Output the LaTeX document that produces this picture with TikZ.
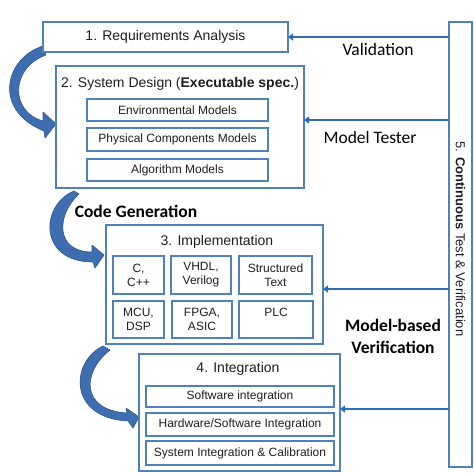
\documentclass[tikz,border=0pt]{standalone}
\usepackage{fontspec}
\setmainfont{Liberation Sans}
\newfontfamily\calfont{Carlito}
\usetikzlibrary{arrows.meta,calc}
\definecolor{boxblue}{RGB}{79,129,189}
\definecolor{lineblue}{RGB}{46,110,182}
\definecolor{arrfill}{RGB}{62,110,176}
\definecolor{arrdraw}{RGB}{45,85,145}
\definecolor{txt}{RGB}{30,30,30}
\begin{document}
\begin{tikzpicture}[x=1pt,y=-1pt,
 box/.style={draw=boxblue,line width=1.5pt,inner sep=0pt,outer sep=0pt,anchor=north west,text=txt,align=center,fill=white},
 bigtxt/.style={font=\fontsize{14}{16}\selectfont,text=txt},
 smalltxt/.style={font=\fontsize{12}{14}\selectfont},
 lbl/.style={font=\calfont\fontsize{17.5}{22}\selectfont,text=black,align=center},
 conn/.style={draw=lineblue,line width=2.4pt,-{Triangle[length=5pt,width=7pt]}},
 bendarrow/.style={fill=arrfill,draw=arrdraw,line width=0.6pt,line join=round}]
\useasboundingbox[fill=white] (0,0) rectangle (474,472);

% curved block arrows
\path[bendarrow] (43,46) .. controls (5,58) and (-8,110) .. (44,131) -- (45,138) -- (56,124) -- (43,112) -- (43,121) .. controls (10,112) and (10,68) .. (46,55) -- cycle;
\path[bendarrow] (74,191) .. controls (40,205) and (38,262) .. (93,262) -- (95,268) -- (104,255) -- (92,245) -- (92,252) .. controls (55,252) and (56,215) .. (79,194) -- cycle;
\path[bendarrow] (103,346) .. controls (70,362) and (68,418) .. (128,421) -- (133,428) -- (139,417) -- (126,408) -- (127,413) .. controls (80,410) and (82,372) .. (110,350) -- cycle;

% 1
\node[box,bigtxt,minimum width=245,minimum height=30] (b1) at (43,22) {1. Requirements Analysis};
% 2
\node[box,minimum width=248,minimum height=122] (b2) at (56,66) {};
\node[bigtxt] (t2) at (180,84) {2. System Design (\textbf{Executable spec.})};
\node[box,smalltxt,minimum width=181,minimum height=22] (env) at (87,99) {Environmental Models};
\node[box,smalltxt,minimum width=181,minimum height=23] (phys) at (87,128) {Physical Components Models};
\node[box,smalltxt,minimum width=181,minimum height=22] (algo) at (87,159) {Algorithm Models};
% 3
\node[box,minimum width=217,minimum height=119] (b3) at (106,225) {};
\node[bigtxt] (t3) at (217,242) {3. Implementation};
\node[box,smalltxt,minimum width=51,minimum height=38] (c1) at (113,256) {C,\\C++};
\node[box,smalltxt,minimum width=60,minimum height=38] (c2) at (171,256) {VHDL,\\Verilog};
\node[box,smalltxt,minimum width=73,minimum height=38] (c3) at (239,256) {Structured\\Text};
\node[box,smalltxt,minimum width=51,minimum height=37] (c4) at (113,301) {MCU,\\DSP};
\node[box,smalltxt,minimum width=60,minimum height=37] (c5) at (172,301) {FPGA,\\ASIC};
\node[box,smalltxt,minimum width=74,minimum height=37] (c6) at (239,301) {PLC\\~};
% 4
\node[box,minimum width=201,minimum height=117] (b4) at (139,354) {};
\node[bigtxt] (t4) at (238,369) {4. Integration};
\node[box,smalltxt,minimum width=188,minimum height=21] (sw) at (146,386) {Software integration};
\node[box,smalltxt,minimum width=188,minimum height=23] (hw) at (146,413) {Hardware/Software Integration};
\node[box,smalltxt,minimum width=188,minimum height=24] (sys) at (146,441) {System Integration \& Calibration};
% 5
\node[box,minimum width=23,minimum height=445] (bar) at (449,22) {};
\node[rotate=-90,font=\fontsize{13}{15}\selectfont,text=txt] (t5) at (bar.center |- 0,239) {5. \textbf{Continuous} Test \& Verification};

% connectors
\coordinate (m1) at (b1.east);
\coordinate (m2) at ($(b2.east)+(0,-7)$);
\coordinate (m3) at ($(b3.east)+(0,4.5)$);
\coordinate (m4) at ($(b4.east)+(0,-3.5)$);
\draw[conn] (bar.west |- m1) -- (m1);
\draw[conn] (bar.west |- m2) -- (m2);
\draw[conn] (bar.west |- m3) -- (m3);
\draw[conn] (bar.west |- m4) -- (m4);

% labels
\node[lbl] (lval) at (378,49) {Validation};
\node[lbl] (lmt) at (370,137) {Model Tester};
\node[lbl,font=\calfont\bfseries\fontsize{17.5}{22}\selectfont] (lcg) at (136,211) {Code Generation};
\node[lbl,font=\calfont\bfseries\fontsize{17.5}{22}\selectfont] (lmb) at (393,336) {Model-based\\Verification};
\end{tikzpicture}
\end{document}
